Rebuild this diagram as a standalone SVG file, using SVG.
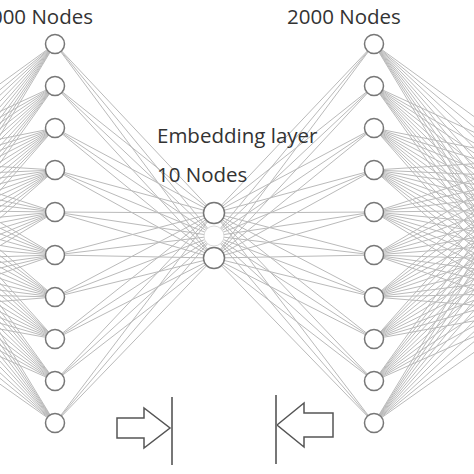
<svg xmlns="http://www.w3.org/2000/svg" width="474" height="474" viewBox="0 0 474 474">
<style>
.c{fill:none;stroke:#bababa;stroke-width:1}
.n{fill:#fff;stroke:#777;stroke-width:1.5}
.h{fill:#fff;stroke:#dcdcdc;stroke-width:1}
.t{font-family:"Open Sans","Noto Sans",sans-serif;font-size:20.5px;fill:#333}
.a{fill:#fff;stroke:#555;stroke-width:1.5;stroke-linejoin:miter}
.b{stroke:#777;stroke-width:2}
</style>
<rect width="474" height="474" fill="#fff"/>
<g id="connectors">
<path class="c" d="M55 44L-105 160M55 44L-105 177M55 44L-105 193M55 44L-105 210M55 44L-105 227M55 44L-105 243M55 44L-105 260M55 44L-105 277M55 44L-105 293M55 44L-105 310"/>
<path class="c" d="M55 86L-105 160M55 86L-105 177M55 86L-105 193M55 86L-105 210M55 86L-105 227M55 86L-105 243M55 86L-105 260M55 86L-105 277M55 86L-105 293M55 86L-105 310"/>
<path class="c" d="M55 128L-105 160M55 128L-105 177M55 128L-105 193M55 128L-105 210M55 128L-105 227M55 128L-105 243M55 128L-105 260M55 128L-105 277M55 128L-105 293M55 128L-105 310"/>
<path class="c" d="M55 170L-105 160M55 170L-105 177M55 170L-105 193M55 170L-105 210M55 170L-105 227M55 170L-105 243M55 170L-105 260M55 170L-105 277M55 170L-105 293M55 170L-105 310"/>
<path class="c" d="M55 212L-105 160M55 212L-105 177M55 212L-105 193M55 212L-105 210M55 212L-105 227M55 212L-105 243M55 212L-105 260M55 212L-105 277M55 212L-105 293M55 212L-105 310"/>
<path class="c" d="M55 255L-105 160M55 255L-105 177M55 255L-105 193M55 255L-105 210M55 255L-105 227M55 255L-105 243M55 255L-105 260M55 255L-105 277M55 255L-105 293M55 255L-105 310"/>
<path class="c" d="M55 297L-105 160M55 297L-105 177M55 297L-105 193M55 297L-105 210M55 297L-105 227M55 297L-105 243M55 297L-105 260M55 297L-105 277M55 297L-105 293M55 297L-105 310"/>
<path class="c" d="M55 339L-105 160M55 339L-105 177M55 339L-105 193M55 339L-105 210M55 339L-105 227M55 339L-105 243M55 339L-105 260M55 339L-105 277M55 339L-105 293M55 339L-105 310"/>
<path class="c" d="M55 381L-105 160M55 381L-105 177M55 381L-105 193M55 381L-105 210M55 381L-105 227M55 381L-105 243M55 381L-105 260M55 381L-105 277M55 381L-105 293M55 381L-105 310"/>
<path class="c" d="M55 423L-105 160M55 423L-105 177M55 423L-105 193M55 423L-105 210M55 423L-105 227M55 423L-105 243M55 423L-105 260M55 423L-105 277M55 423L-105 293M55 423L-105 310"/>
<path class="c" d="M374 44L534 160M374 44L534 177M374 44L534 193M374 44L534 210M374 44L534 227M374 44L534 243M374 44L534 260M374 44L534 277M374 44L534 293M374 44L534 310"/>
<path class="c" d="M374 86L534 160M374 86L534 177M374 86L534 193M374 86L534 210M374 86L534 227M374 86L534 243M374 86L534 260M374 86L534 277M374 86L534 293M374 86L534 310"/>
<path class="c" d="M374 128L534 160M374 128L534 177M374 128L534 193M374 128L534 210M374 128L534 227M374 128L534 243M374 128L534 260M374 128L534 277M374 128L534 293M374 128L534 310"/>
<path class="c" d="M374 170L534 160M374 170L534 177M374 170L534 193M374 170L534 210M374 170L534 227M374 170L534 243M374 170L534 260M374 170L534 277M374 170L534 293M374 170L534 310"/>
<path class="c" d="M374 212L534 160M374 212L534 177M374 212L534 193M374 212L534 210M374 212L534 227M374 212L534 243M374 212L534 260M374 212L534 277M374 212L534 293M374 212L534 310"/>
<path class="c" d="M374 255L534 160M374 255L534 177M374 255L534 193M374 255L534 210M374 255L534 227M374 255L534 243M374 255L534 260M374 255L534 277M374 255L534 293M374 255L534 310"/>
<path class="c" d="M374 297L534 160M374 297L534 177M374 297L534 193M374 297L534 210M374 297L534 227M374 297L534 243M374 297L534 260M374 297L534 277M374 297L534 293M374 297L534 310"/>
<path class="c" d="M374 339L534 160M374 339L534 177M374 339L534 193M374 339L534 210M374 339L534 227M374 339L534 243M374 339L534 260M374 339L534 277M374 339L534 293M374 339L534 310"/>
<path class="c" d="M374 381L534 160M374 381L534 177M374 381L534 193M374 381L534 210M374 381L534 227M374 381L534 243M374 381L534 260M374 381L534 277M374 381L534 293M374 381L534 310"/>
<path class="c" d="M374 423L534 160M374 423L534 177M374 423L534 193M374 423L534 210M374 423L534 227M374 423L534 243M374 423L534 260M374 423L534 277M374 423L534 293M374 423L534 310"/>
<path class="c" d="M55 44L214 213M55 44L214 236M55 44L214 258M55 86L214 213M55 86L214 236M55 86L214 258M55 128L214 213M55 128L214 236M55 128L214 258M55 170L214 213M55 170L214 236M55 170L214 258M55 212L214 213M55 212L214 236M55 212L214 258M55 255L214 213M55 255L214 236M55 255L214 258M55 297L214 213M55 297L214 236M55 297L214 258M55 339L214 213M55 339L214 236M55 339L214 258M55 381L214 213M55 381L214 236M55 381L214 258M55 423L214 213M55 423L214 236M55 423L214 258"/>
<path class="c" d="M374 44L214 213M374 44L214 236M374 44L214 258M374 86L214 213M374 86L214 236M374 86L214 258M374 128L214 213M374 128L214 236M374 128L214 258M374 170L214 213M374 170L214 236M374 170L214 258M374 212L214 213M374 212L214 236M374 212L214 258M374 255L214 213M374 255L214 236M374 255L214 258M374 297L214 213M374 297L214 236M374 297L214 258M374 339L214 213M374 339L214 236M374 339L214 258M374 381L214 213M374 381L214 236M374 381L214 258M374 423L214 213M374 423L214 236M374 423L214 258"/>
</g>
<g id="layer-left">
<circle id="l0" class="n" cx="55" cy="44" r="9.5"/>
<circle id="l1" class="n" cx="55" cy="86" r="9.5"/>
<circle id="l2" class="n" cx="55" cy="128" r="9.5"/>
<circle id="l3" class="n" cx="55" cy="170" r="9.5"/>
<circle id="l4" class="n" cx="55" cy="212" r="9.5"/>
<circle id="l5" class="n" cx="55" cy="255" r="9.5"/>
<circle id="l6" class="n" cx="55" cy="297" r="9.5"/>
<circle id="l7" class="n" cx="55" cy="339" r="9.5"/>
<circle id="l8" class="n" cx="55" cy="381" r="9.5"/>
<circle id="l9" class="n" cx="55" cy="423" r="9.5"/>
</g>
<g id="layer-embedding">
<circle id="m1" class="h" cx="214" cy="236" r="10"/>
<circle id="m0" class="n" cx="214" cy="213" r="10.5"/>
<circle id="m2" class="n" cx="214" cy="258" r="10.5"/>
</g>
<g id="layer-right">
<circle id="r0" class="n" cx="374" cy="44" r="9.5"/>
<circle id="r1" class="n" cx="374" cy="86" r="9.5"/>
<circle id="r2" class="n" cx="374" cy="128" r="9.5"/>
<circle id="r3" class="n" cx="374" cy="170" r="9.5"/>
<circle id="r4" class="n" cx="374" cy="212" r="9.5"/>
<circle id="r5" class="n" cx="374" cy="255" r="9.5"/>
<circle id="r6" class="n" cx="374" cy="297" r="9.5"/>
<circle id="r7" class="n" cx="374" cy="339" r="9.5"/>
<circle id="r8" class="n" cx="374" cy="381" r="9.5"/>
<circle id="r9" class="n" cx="374" cy="423" r="9.5"/>
</g>
<g id="labels">
<text class="t" x="93" y="24" text-anchor="end">2000 Nodes</text>
<text class="t" x="287" y="24">2000 Nodes</text>
<text class="t" x="157" y="143">Embedding layer</text>
<text class="t" x="157" y="182">10 Nodes</text>
</g>
<g id="arrow-encode">
<polygon class="a" points="117,418 144,418 144,408 170,428 144,448 144,438 117,438"/>
<line class="b" x1="172" y1="397" x2="172" y2="465"/>
</g>
<g id="arrow-decode">
<polygon class="a" points="277,425 304,403 304,413 333,413 333,437 304,437 304,447"/>
<line class="b" x1="276" y1="395" x2="276" y2="464"/>
</g>
</svg>
